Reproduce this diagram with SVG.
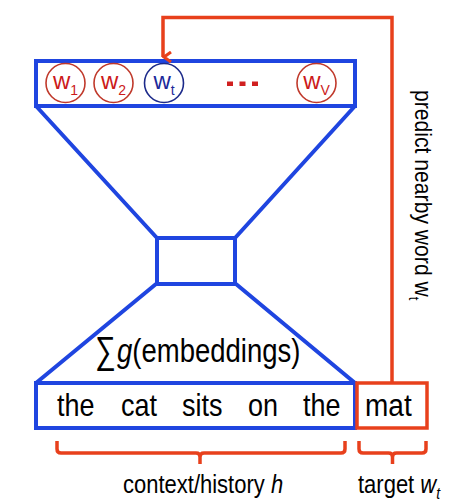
<svg xmlns="http://www.w3.org/2000/svg" width="474" height="504" viewBox="0 0 474 504">
<style>
.blue{fill:none;stroke:#1f45e0;stroke-width:4;stroke-linejoin:miter}
.red{fill:none;stroke:#e8401c;stroke-width:3.5}
.t{font-family:"Liberation Sans",Arial,sans-serif;fill:#000}
.cr{fill:none;stroke:#c0392b;stroke-width:1.6}
.cb{fill:none;stroke:#1c2a8a;stroke-width:1.6}
.wr{font-family:"Liberation Sans",Arial,sans-serif;font-size:24px;fill:#cc1a1a;text-anchor:middle}
.wb{font-family:"Liberation Sans",Arial,sans-serif;font-size:24px;fill:#1c2a9a;text-anchor:middle}
</style>
<defs>
<marker id="ah" viewBox="0 0 12 12" refX="6" refY="11" markerWidth="12" markerHeight="12" markerUnits="userSpaceOnUse" orient="auto-start-reverse">
<path d="M1,3 L6,10 L11,3" fill="none" stroke="#e8401c" stroke-width="3"/>
</marker>
</defs>
<rect width="474" height="504" fill="#fff"/>

<g id="output-layer">
<rect class="blue" x="36" y="61" width="319" height="45"/>
<circle class="cr" cx="65.5" cy="83" r="19.5"/>
<text class="wr" x="65.5" y="89">w<tspan font-size="14" dy="6">1</tspan></text>
<circle class="cr" cx="113.5" cy="83" r="19.5"/>
<text class="wr" x="113.5" y="89">w<tspan font-size="14" dy="6">2</tspan></text>
<circle class="cb" cx="164" cy="83" r="19.5"/>
<text class="wb" x="164" y="89">w<tspan font-size="14" dy="6">t</tspan></text>
<g fill="#d02020">
<rect x="227" y="81.5" width="6" height="4.5"/>
<rect x="239.5" y="81.5" width="6" height="4.5"/>
<rect x="252" y="81.5" width="6" height="4.5"/>
</g>
<circle class="cr" cx="316.5" cy="83" r="19.5"/>
<text class="wr" x="316.5" y="89">w<tspan font-size="14" dy="6">V</tspan></text>
</g>

<g id="funnel">
<path class="blue" d="M36,106 L157,238 M355,106 L235,238"/>
<path class="blue" d="M156,284 L36,383 M236,284 L355,383"/>
</g>

<g id="hidden">
<rect class="blue" x="157" y="238" width="78" height="46"/>
<text class="t" transform="translate(95,363) scale(1,1.3)" font-size="29">∑</text>
<text class="t" transform="translate(117,362) scale(1,1.2)" font-size="27.5"><tspan font-style="italic">g</tspan>(embeddings)</text>
</g>

<g id="context">
<rect class="blue" x="36" y="383" width="319" height="45"/>
<g class="t" font-size="27">
<text transform="translate(57,416) scale(1,1.13)">the</text>
<text transform="translate(121,416) scale(1,1.13)">cat</text>
<text transform="translate(182,416) scale(1,1.13)">sits</text>
<text transform="translate(248,416) scale(1,1.13)">on</text>
<text transform="translate(303,416) scale(1,1.13)">the</text>
</g>
</g>

<g id="target">
<rect class="red" x="357" y="383" width="70" height="45"/>
<text class="t" transform="translate(365,416) scale(1,1.13)" font-size="28">mat</text>
</g>

<g id="connectors">
<path class="red" d="M392,383 L392,17.5 L163,17.5 L163,57" marker-end="url(#ah)"/>
</g>

<g id="labels">
<text class="t" transform="translate(415,90) rotate(90) scale(0.92,1)" font-size="23">predict nearby word w<tspan font-size="14" dy="6">t</tspan></text>
<path class="red" d="M57,441 L57,449 Q57,453 61,453 L196,453 Q200,453 200,457 L200,464 M200,457 Q200,453 204,453 L341,453 Q345,453 345,449 L345,441" stroke-linejoin="round"/>
<path class="red" d="M359,441 L359,449 Q359,453 363,453 L388.5,453 Q392.5,453 392.5,457 L392.5,464 M392.5,457 Q392.5,453 396.5,453 L422,453 Q426,453 426,449 L426,441" stroke-linejoin="round"/>
<text class="t" transform="translate(123,493) scale(1,1.14)" font-size="22">context/history <tspan font-style="italic">h</tspan></text>
<text class="t" transform="translate(358,493) scale(1,1.14)" font-size="22">target <tspan font-style="italic">w</tspan><tspan font-style="italic" font-size="14" dy="5">t</tspan></text>
</g>
</svg>
